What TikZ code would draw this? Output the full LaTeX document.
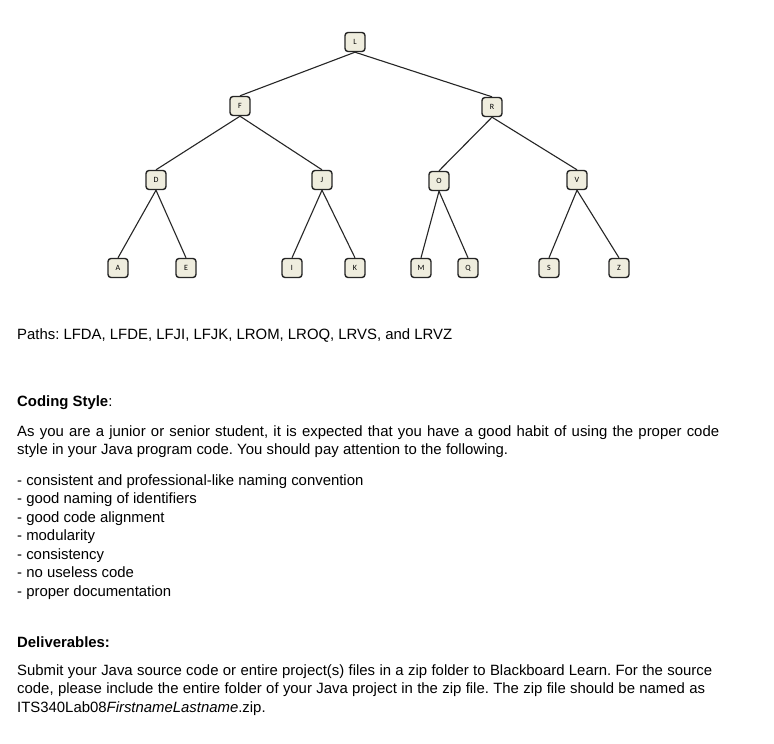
\documentclass[tikz,border=0pt]{standalone}
\usepackage{fontspec}
\setmainfont{Liberation Sans}
\newfontfamily\nodefont{Carlito}
\frenchspacing
\begin{document}
\begin{tikzpicture}[x=1pt,y=-1pt,
  tn/.style={draw=black!85, line width=1.4pt, fill=black!8!white!93!yellow, rounded corners=3pt,
    minimum width=20pt, minimum height=19pt, inner sep=0pt, font=\nodefont\fontsize{8}{9}\selectfont},
  edge/.style={line width=1.1pt, black!85},
  txt/.style={anchor=base west, inner sep=0pt, font=\fontsize{14.9}{17}\selectfont}]
\useasboundingbox (0,0) rectangle (774,744);
\fill[white] (0,0) rectangle (774,744);
% tree nodes
\node[tn] (L) at (355,42) {L};
\node[tn] (F) at (240,106) {F};
\node[tn] (R) at (492,107) {R};
\node[tn] (D) at (156,180) {D};
\node[tn] (J) at (322,180) {J};
\node[tn] (O) at (439,181) {O};
\node[tn] (V) at (577,180) {V};
\node[tn] (A) at (118,268) {A};
\node[tn] (E) at (186,268) {E};
\node[tn] (I) at (292,268) {I};
\node[tn] (K) at (355,268) {K};
\node[tn] (M) at (421,268) {M};
\node[tn] (Q) at (468,268) {Q};
\node[tn] (S) at (549,268) {S};
\node[tn] (Z) at (619,268) {Z};
% edges
\foreach \p/\c in {L/F,L/R,F/D,F/J,R/O,R/V,D/A,D/E,J/I,J/K,O/M,O/Q,V/S,V/Z}
  \draw[edge] (\p.south) -- (\c.north);
% text
\node[txt] (paths) at (17,339) {Paths: LFDA, LFDE, LFJI, LFJK, LROM, LROQ, LRVS, and LRVZ};
\node[txt] (cs) at (17,406) {\textbf{Coding Style}:};
\node[txt] (p1) at (17,436) {\makebox[702pt][s]{As you are a junior or senior student, it is expected that you have a good habit of using the proper code}};
\node[txt] (p2) at (17,454) {\makebox[491pt][s]{style in your Java program code. You should pay attention to the following.}};
\node[txt] (l1) at (17,485) {- consistent and professional-like naming convention};
\node[txt] (l2) at (17,503.5) {- good naming of identifiers};
\node[txt] (l3) at (17,522) {- good code alignment};
\node[txt] (l4) at (17,540.5) {- modularity};
\node[txt] (l5) at (17,559) {- consistency};
\node[txt] (l6) at (17,577.5) {- no useless code};
\node[txt] (l7) at (17,596) {- proper documentation};
\node[txt] (dl) at (17,647) {\textbf{Deliverables:}};
\node[txt] (d1) at (17,675) {\makebox[695pt][s]{Submit your Java source code or entire project(s) files in a zip folder to Blackboard Learn. For the source}};
\node[txt] (d2) at (17,693) {\makebox[688pt][s]{code, please include the entire folder of your Java project in the zip file. The zip file should be named as}};
\node[txt] (d3) at (17,712) {ITS340Lab08\textit{FirstnameLastname}.zip.};
\end{tikzpicture}
\end{document}
